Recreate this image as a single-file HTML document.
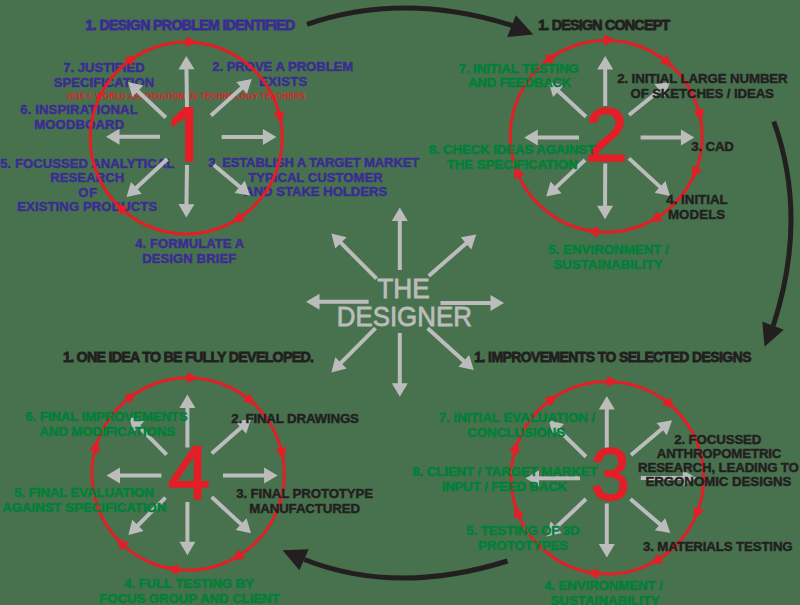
<!DOCTYPE html><html><head><meta charset="utf-8"><style>html,body{margin:0;padding:0;background:#48724e;}svg{display:block;}text{font-family:"Liberation Sans",sans-serif;}</style></head><body>
<svg width="800" height="605" viewBox="0 0 800 605">
<rect width="800" height="605" fill="#48724e"/>
<text x="85.60" y="29.70" font-size="14.10" font-weight="bold" fill="#3a2c92" stroke="#3a2c92" stroke-width="0.80" textLength="209.60" lengthAdjust="spacing">1. DESIGN PROBLEM IDENTIFIED</text>
<text x="63.20" y="72.40" font-size="13.10" font-weight="bold" fill="#3a2c92" stroke="#3a2c92" stroke-width="0.45" textLength="81.50" lengthAdjust="spacing">7. JUSTIFIED</text>
<text x="53.70" y="87.40" font-size="13.10" font-weight="bold" fill="#3a2c92" stroke="#3a2c92" stroke-width="0.45" textLength="100.50" lengthAdjust="spacing">SPECIFICATION</text>
<text x="20.20" y="114.40" font-size="13.10" font-weight="bold" fill="#3a2c92" stroke="#3a2c92" stroke-width="0.45" textLength="117.50" lengthAdjust="spacing">6. INSPIRATIONAL</text>
<text x="34.20" y="128.90" font-size="13.10" font-weight="bold" fill="#3a2c92" stroke="#3a2c92" stroke-width="0.45" textLength="90.00" lengthAdjust="spacing">MOODBOARD</text>
<text x="0.20" y="167.90" font-size="13.10" font-weight="bold" fill="#3a2c92" stroke="#3a2c92" stroke-width="0.45" textLength="174.00" lengthAdjust="spacing">5. FOCUSSED ANALYTICAL</text>
<text x="50.20" y="182.40" font-size="13.10" font-weight="bold" fill="#3a2c92" stroke="#3a2c92" stroke-width="0.45" textLength="74.00" lengthAdjust="spacing">RESEARCH</text>
<text x="78.20" y="197.40" font-size="13.10" font-weight="bold" fill="#3a2c92" stroke="#3a2c92" stroke-width="0.45" textLength="19.00" lengthAdjust="spacing">OF</text>
<text x="17.20" y="210.90" font-size="13.10" font-weight="bold" fill="#3a2c92" stroke="#3a2c92" stroke-width="0.45" textLength="140.00" lengthAdjust="spacing">EXISTING PRODUCTS</text>
<text x="135.20" y="247.90" font-size="13.10" font-weight="bold" fill="#3a2c92" stroke="#3a2c92" stroke-width="0.45" textLength="109.00" lengthAdjust="spacing">4. FORMULATE A</text>
<text x="142.20" y="262.90" font-size="13.10" font-weight="bold" fill="#3a2c92" stroke="#3a2c92" stroke-width="0.45" textLength="94.00" lengthAdjust="spacing">DESIGN BRIEF</text>
<text x="212.20" y="70.90" font-size="13.10" font-weight="bold" fill="#3a2c92" stroke="#3a2c92" stroke-width="0.45" textLength="141.00" lengthAdjust="spacing">2. PROVE A PROBLEM</text>
<text x="259.20" y="85.90" font-size="13.10" font-weight="bold" fill="#3a2c92" stroke="#3a2c92" stroke-width="0.45" textLength="48.00" lengthAdjust="spacing">EXISTS</text>
<text x="208.20" y="166.90" font-size="13.10" font-weight="bold" fill="#3a2c92" stroke="#3a2c92" stroke-width="0.45" textLength="211.00" lengthAdjust="spacing">3. ESTABLISH A TARGET MARKET</text>
<text x="248.20" y="181.90" font-size="13.10" font-weight="bold" fill="#3a2c92" stroke="#3a2c92" stroke-width="0.45" textLength="134.50" lengthAdjust="spacing">TYPICAL CUSTOMER</text>
<text x="244.20" y="195.90" font-size="13.10" font-weight="bold" fill="#3a2c92" stroke="#3a2c92" stroke-width="0.45" textLength="143.00" lengthAdjust="spacing">AND STAKE HOLDERS</text>
<text x="66.50" y="99.40" font-size="9.60" font-weight="bold" fill="#e41e26" stroke="#e41e26" stroke-width="0.00" textLength="238.80" lengthAdjust="spacingAndGlyphs">2016 © WORLD ASSOCIATION OF TECHNOLOGY TEACHERS</text>
<g fill="none" stroke="#231f20" stroke-width="5">
<path d="M307,24.3 Q405.5,-9.3 514.5,26.3"/>
<path d="M773.8,121.5 Q808.5,217.2 773.25,325.75"/>
<path d="M507.5,561 Q396.1,595.8 304.25,559.5"/>
</g><g fill="#231f20">
<polygon points="533.3,34.6 507.2,37 515.8,15.3"/>
<polygon points="764.5,346.8 762.3,321.4 783.8,329.8"/>
<polygon points="282.6,550.3 299.4,570.2 308.7,549.3"/>
</g>
<circle cx="186.25" cy="138.00" r="96.00" fill="none" stroke="#e41e26" stroke-width="3"/>
<polygon fill="#e41e26" points="197.95,42.53 185.64,47.30 186.30,36.32"/>
<polygon fill="#e41e26" points="137.49,55.09 130.62,66.36 124.47,57.25"/>
<polygon fill="#e41e26" points="281.42,124.04 273.56,113.44 284.32,111.17"/>
<polygon fill="#e41e26" points="231.67,222.79 238.98,211.80 244.77,221.15"/>
<polygon fill="#e41e26" points="115.36,203.01 127.82,207.37 120.19,215.30"/>
<circle cx="606.25" cy="136.25" r="96.00" fill="none" stroke="#e41e26" stroke-width="3"/>
<polygon fill="#e41e26" points="615.91,40.55 603.71,45.59 604.13,34.60"/>
<polygon fill="#e41e26" points="672.80,66.80 660.08,63.26 667.18,54.85"/>
<polygon fill="#e41e26" points="701.35,121.85 693.44,111.28 704.20,108.96"/>
<polygon fill="#e41e26" points="692.41,179.00 692.00,165.81 702.14,170.07"/>
<polygon fill="#e41e26" points="649.36,222.24 656.96,211.45 662.50,220.95"/>
<polygon fill="#e41e26" points="586.33,230.35 599.00,226.66 597.40,237.54"/>
<polygon fill="#e41e26" points="514.61,165.49 524.09,174.68 513.84,178.67"/>
<polygon fill="#e41e26" points="557.46,53.36 550.59,64.63 544.43,55.52"/>
<circle cx="607.35" cy="477.75" r="96.35" fill="none" stroke="#e41e26" stroke-width="3"/>
<polygon fill="#e41e26" points="618.96,381.91 606.66,386.70 607.30,375.72"/>
<polygon fill="#e41e26" points="557.54,395.06 550.79,406.40 544.54,397.35"/>
<polygon fill="#e41e26" points="674.88,408.76 662.20,405.08 669.40,396.76"/>
<polygon fill="#e41e26" points="518.19,440.75 519.48,453.89 509.08,450.31"/>
<polygon fill="#e41e26" points="694.22,519.85 693.69,506.66 703.87,510.83"/>
<polygon fill="#e41e26" points="514.83,505.32 524.13,514.69 513.81,518.48"/>
<polygon fill="#e41e26" points="650.27,564.22 657.92,553.46 663.41,562.99"/>
<polygon fill="#e41e26" points="586.33,571.97 599.04,568.42 597.32,579.28"/>
<circle cx="188.10" cy="474.00" r="96.25" fill="none" stroke="#e41e26" stroke-width="3"/>
<polygon fill="#e41e26" points="199.00,378.18 186.73,383.06 187.29,372.08"/>
<polygon fill="#e41e26" points="136.92,392.26 130.37,403.72 123.96,394.78"/>
<polygon fill="#e41e26" points="255.51,405.04 242.83,401.36 250.02,393.03"/>
<polygon fill="#e41e26" points="98.02,439.56 99.69,452.66 89.19,449.38"/>
<polygon fill="#e41e26" points="283.50,459.92 275.64,449.32 286.40,447.04"/>
<polygon fill="#e41e26" points="116.21,538.28 128.62,542.80 120.89,550.63"/>
<polygon fill="#e41e26" points="231.41,560.17 239.00,549.37 244.55,558.87"/>
<polygon fill="#e41e26" points="166.26,567.93 179.01,564.49 177.19,575.34"/>
<g fill="#bbbcbb">
<polygon points="189.00,107.97 188.48,69.37 194.48,69.29 186.30,55.90 178.48,69.51 184.48,69.43 185.00,108.03"/>
<polygon points="185.00,164.97 184.48,204.07 178.48,203.99 186.30,217.60 194.48,204.21 188.48,204.13 189.00,165.03"/>
<polygon points="160.00,134.80 119.50,134.80 119.50,128.80 106.00,136.80 119.50,144.80 119.50,138.80 160.00,138.80"/>
<polygon points="221.70,139.00 262.90,139.00 262.90,145.00 276.40,137.00 262.90,129.00 262.90,135.00 221.70,135.00"/>
<polygon points="167.17,116.04 139.21,89.78 143.32,85.41 128.00,82.00 132.36,97.07 136.47,92.70 164.43,118.96"/>
<polygon points="212.34,116.99 242.98,89.50 246.99,93.97 251.70,79.00 236.31,82.06 240.31,86.52 209.66,114.01"/>
<polygon points="165.94,157.54 135.02,186.34 130.93,181.94 126.50,197.00 141.83,193.65 137.74,189.26 168.66,160.46"/>
<polygon points="212.51,166.53 238.39,188.33 234.52,192.92 250.00,195.50 244.83,180.68 240.96,185.27 215.09,163.47"/>
<polygon points="607.20,106.00 607.20,69.50 613.20,69.50 605.20,56.00 597.20,69.50 603.20,69.50 603.20,106.00"/>
<polygon points="603.20,163.59 603.05,205.69 597.05,205.67 605.00,219.20 613.05,205.73 607.05,205.71 607.20,163.61"/>
<polygon points="579.00,135.60 537.80,135.60 537.80,129.60 524.30,137.60 537.80,145.60 537.80,139.60 579.00,139.60"/>
<polygon points="640.60,139.60 680.90,139.60 680.90,145.60 694.40,137.60 680.90,129.60 680.90,135.60 640.60,135.60"/>
<polygon points="587.36,115.34 559.85,89.73 563.93,85.34 548.60,82.00 553.03,97.05 557.12,92.66 584.64,118.26"/>
<polygon points="630.25,116.56 660.74,92.02 664.50,96.70 670.00,82.00 654.47,84.23 658.23,88.91 627.75,113.44"/>
<polygon points="583.63,158.55 554.65,185.88 550.53,181.52 546.20,196.60 561.51,193.16 557.39,188.79 586.37,161.45"/>
<polygon points="627.65,159.87 658.70,188.35 654.64,192.77 670.00,196.00 665.46,180.98 661.40,185.40 630.35,156.93"/>
<polygon points="608.80,448.00 608.80,409.50 614.80,409.50 606.80,396.00 598.80,409.50 604.80,409.50 604.80,448.00"/>
<polygon points="604.80,503.60 604.80,543.90 598.80,543.90 606.80,557.40 614.80,543.90 608.80,543.90 608.80,503.60"/>
<polygon points="580.00,476.30 539.00,476.30 539.00,470.30 525.50,478.30 539.00,486.30 539.00,480.30 580.00,480.30"/>
<polygon points="640.80,480.00 682.80,480.00 682.80,486.00 696.30,478.00 682.80,470.00 682.80,476.00 640.80,476.00"/>
<polygon points="587.40,455.37 559.84,428.33 564.04,424.04 548.80,420.30 552.83,435.47 557.04,431.18 584.60,458.23"/>
<polygon points="632.29,456.53 662.99,430.55 666.86,435.13 672.00,420.30 656.53,422.91 660.40,427.49 629.71,453.47"/>
<polygon points="584.62,497.55 554.81,525.85 550.68,521.50 546.40,536.60 561.70,533.11 557.57,528.75 587.38,500.45"/>
<polygon points="629.10,500.52 658.73,525.77 654.84,530.33 670.30,533.00 665.21,518.15 661.32,522.72 631.70,497.48"/>
<polygon points="189.40,447.60 189.40,408.00 195.40,408.00 187.40,394.50 179.40,408.00 185.40,408.00 185.40,447.60"/>
<polygon points="185.40,502.00 185.40,541.70 179.40,541.70 187.40,555.20 195.40,541.70 189.40,541.70 189.40,502.00"/>
<polygon points="161.40,473.40 120.00,473.40 120.00,467.40 106.50,475.40 120.00,483.40 120.00,477.40 161.40,477.40"/>
<polygon points="223.00,477.40 264.10,477.40 264.10,483.40 277.60,475.40 264.10,467.40 264.10,473.40 223.00,473.40"/>
<polygon points="168.02,453.19 140.32,425.19 144.58,420.97 129.40,417.00 133.21,432.22 137.47,428.00 165.18,456.01"/>
<polygon points="213.02,455.00 242.20,429.23 246.18,433.73 251.00,418.80 235.59,421.74 239.56,426.24 210.38,452.00"/>
<polygon points="164.08,496.19 136.49,524.01 132.23,519.78 128.40,535.00 143.59,531.05 139.33,526.82 166.92,499.01"/>
<polygon points="210.34,498.47 239.73,525.61 235.65,530.02 251.00,533.30 246.51,518.26 242.44,522.67 213.06,495.53"/>
<polygon points="401.80,270.00 401.80,220.90 407.80,220.90 399.80,207.40 391.80,220.90 397.80,220.90 397.80,270.00"/>
<polygon points="378.01,277.19 342.36,241.53 346.60,237.29 331.40,233.40 335.29,248.60 339.53,244.36 375.19,280.01"/>
<polygon points="430.02,277.51 467.35,244.89 471.30,249.41 476.20,234.50 460.77,237.36 464.72,241.88 427.38,274.49"/>
<polygon points="368.60,299.80 319.50,299.80 319.50,293.80 306.00,301.80 319.50,309.80 319.50,303.80 368.60,303.80"/>
<polygon points="440.50,304.90 490.50,304.90 490.50,310.90 504.00,302.90 490.50,294.90 490.50,300.90 440.50,300.90"/>
<polygon points="374.08,326.79 339.52,361.43 335.27,357.19 331.40,372.40 346.60,368.49 342.35,364.26 376.92,329.61"/>
<polygon points="397.80,333.00 397.80,383.20 391.80,383.20 399.80,396.70 407.80,383.20 401.80,383.20 401.80,333.00"/>
<polygon points="426.26,329.68 462.45,362.43 458.42,366.87 473.80,370.00 469.16,355.01 465.13,359.46 428.94,326.72"/>
</g>
<polygon fill="#e41e26" points="185.1,106.9 193.3,106.9 193.3,161.7 185.1,161.7 185.1,118 171.5,127.4 171.5,119"/>
<text x="585.15" y="161.1" font-size="76.6" fill="#e41e26" stroke="#e41e26" stroke-width="1.4">2</text>
<text transform="translate(590.95,499.9) scale(0.93,1)" font-size="74.9" fill="#e41e26" stroke="#e41e26" stroke-width="1.4">3</text>
<text x="167.9" y="499" font-size="76" fill="#e41e26" stroke="#e41e26" stroke-width="1.4">4</text>
<text x="377.2" y="297.6" font-size="27.5" fill="#bbbcbb" stroke="#bbbcbb" stroke-width="0.8" textLength="52.5" lengthAdjust="spacingAndGlyphs">THE</text>
<text x="336.8" y="325.8" font-size="27.5" fill="#bbbcbb" stroke="#bbbcbb" stroke-width="0.8" textLength="135" lengthAdjust="spacingAndGlyphs">DESIGNER</text>
<text x="538.20" y="29.70" font-size="14.39" font-weight="bold" fill="#231f20" stroke="#231f20" stroke-width="0.80" textLength="132.00" lengthAdjust="spacing">1. DESIGN CONCEPT</text>
<text x="458.70" y="72.90" font-size="13.30" font-weight="bold" fill="#008038" stroke="#008038" stroke-width="0.45" textLength="120.25" lengthAdjust="spacing">7. INITIAL TESTING</text>
<text x="467.95" y="87.40" font-size="13.30" font-weight="bold" fill="#008038" stroke="#008038" stroke-width="0.45" textLength="103.50" lengthAdjust="spacing">AND FEEDBACK</text>
<text x="617.20" y="82.90" font-size="13.30" font-weight="bold" fill="#231f20" stroke="#231f20" stroke-width="0.45" textLength="170.50" lengthAdjust="spacing">2. INITIAL LARGE NUMBER</text>
<text x="630.45" y="97.90" font-size="13.30" font-weight="bold" fill="#231f20" stroke="#231f20" stroke-width="0.45" textLength="143.50" lengthAdjust="spacing">OF SKETCHES / IDEAS</text>
<text x="691.20" y="151.15" font-size="13.30" font-weight="bold" fill="#231f20" stroke="#231f20" stroke-width="0.45" textLength="42.75" lengthAdjust="spacing">3. CAD</text>
<text x="666.20" y="204.40" font-size="13.30" font-weight="bold" fill="#231f20" stroke="#231f20" stroke-width="0.45" textLength="61.50" lengthAdjust="spacing">4. INITIAL</text>
<text x="667.95" y="219.15" font-size="13.30" font-weight="bold" fill="#231f20" stroke="#231f20" stroke-width="0.45" textLength="57.25" lengthAdjust="spacing">MODELS</text>
<text x="548.30" y="254.15" font-size="13.30" font-weight="bold" fill="#008038" stroke="#008038" stroke-width="0.45" textLength="120.50" lengthAdjust="spacing">5. ENVIRONMENT /</text>
<text x="553.20" y="269.00" font-size="13.30" font-weight="bold" fill="#008038" stroke="#008038" stroke-width="0.45" textLength="109.50" lengthAdjust="spacing">SUSTAINABILITY</text>
<text x="428.70" y="154.40" font-size="13.30" font-weight="bold" fill="#008038" stroke="#008038" stroke-width="0.45" textLength="166.50" lengthAdjust="spacing">8. CHECK IDEAS AGAINST</text>
<text x="446.70" y="168.65" font-size="13.30" font-weight="bold" fill="#008038" stroke="#008038" stroke-width="0.45" textLength="131.00" lengthAdjust="spacing">THE SPECIFICATION</text>
<text x="474.30" y="361.60" font-size="13.95" font-weight="bold" fill="#231f20" stroke="#231f20" stroke-width="0.80" textLength="277.15" lengthAdjust="spacing">1. IMPROVEMENTS TO SELECTED DESIGNS</text>
<text x="438.70" y="422.40" font-size="13.30" font-weight="bold" fill="#008038" stroke="#008038" stroke-width="0.45" textLength="156.50" lengthAdjust="spacing">7. INITIAL EVALUATION /</text>
<text x="467.20" y="437.40" font-size="13.30" font-weight="bold" fill="#008038" stroke="#008038" stroke-width="0.45" textLength="98.00" lengthAdjust="spacing">CONCLUSIONS</text>
<text x="674.20" y="443.65" font-size="13.30" font-weight="bold" fill="#231f20" stroke="#231f20" stroke-width="0.45" textLength="87.25" lengthAdjust="spacing">2. FOCUSSED</text>
<text x="656.70" y="457.90" font-size="13.30" font-weight="bold" fill="#231f20" stroke="#231f20" stroke-width="0.45" textLength="124.75" lengthAdjust="spacing">ANTHROPOMETRIC</text>
<text x="637.95" y="472.40" font-size="13.30" font-weight="bold" fill="#231f20" stroke="#231f20" stroke-width="0.45" textLength="161.00" lengthAdjust="spacing">RESEARCH, LEADING TO</text>
<text x="645.45" y="486.15" font-size="13.30" font-weight="bold" fill="#231f20" stroke="#231f20" stroke-width="0.45" textLength="146.00" lengthAdjust="spacing">ERGONOMIC DESIGNS</text>
<text x="642.95" y="551.15" font-size="13.30" font-weight="bold" fill="#231f20" stroke="#231f20" stroke-width="0.45" textLength="149.75" lengthAdjust="spacing">3. MATERIALS TESTING</text>
<text x="544.20" y="589.90" font-size="13.30" font-weight="bold" fill="#008038" stroke="#008038" stroke-width="0.45" textLength="118.50" lengthAdjust="spacing">4. ENVIRONMENT /</text>
<text x="550.45" y="605.40" font-size="13.30" font-weight="bold" fill="#008038" stroke="#008038" stroke-width="0.45" textLength="109.25" lengthAdjust="spacing">SUSTAINABILITY</text>
<text x="412.20" y="476.15" font-size="13.30" font-weight="bold" fill="#008038" stroke="#008038" stroke-width="0.45" textLength="185.50" lengthAdjust="spacing">8. CLIENT / TARGET MARKET</text>
<text x="441.70" y="491.15" font-size="13.30" font-weight="bold" fill="#008038" stroke="#008038" stroke-width="0.45" textLength="125.50" lengthAdjust="spacing">INPUT / FEED BACK</text>
<text x="466.20" y="535.40" font-size="13.30" font-weight="bold" fill="#008038" stroke="#008038" stroke-width="0.45" textLength="113.50" lengthAdjust="spacing">5. TESTING OF 3D</text>
<text x="477.95" y="549.90" font-size="13.30" font-weight="bold" fill="#008038" stroke="#008038" stroke-width="0.45" textLength="90.25" lengthAdjust="spacing">PROTOTYPES</text>
<text x="62.95" y="361.60" font-size="14.24" font-weight="bold" fill="#231f20" stroke="#231f20" stroke-width="0.80" textLength="251.00" lengthAdjust="spacing">1. ONE IDEA TO BE FULLY DEVELOPED.</text>
<text x="25.45" y="421.15" font-size="13.30" font-weight="bold" fill="#008038" stroke="#008038" stroke-width="0.45" textLength="162.25" lengthAdjust="spacing">6. FINAL IMPROVEMENTS</text>
<text x="39.20" y="436.15" font-size="13.30" font-weight="bold" fill="#008038" stroke="#008038" stroke-width="0.45" textLength="136.00" lengthAdjust="spacing">AND MODIFICATIONS</text>
<text x="231.20" y="422.90" font-size="13.30" font-weight="bold" fill="#231f20" stroke="#231f20" stroke-width="0.45" textLength="127.75" lengthAdjust="spacing">2. FINAL DRAWINGS</text>
<text x="236.20" y="497.90" font-size="13.30" font-weight="bold" fill="#231f20" stroke="#231f20" stroke-width="0.45" textLength="137.00" lengthAdjust="spacing">3. FINAL PROTOTYPE</text>
<text x="249.20" y="512.90" font-size="13.30" font-weight="bold" fill="#231f20" stroke="#231f20" stroke-width="0.45" textLength="111.00" lengthAdjust="spacing">MANUFACTURED</text>
<text x="14.20" y="497.40" font-size="13.30" font-weight="bold" fill="#008038" stroke="#008038" stroke-width="0.45" textLength="139.75" lengthAdjust="spacing">5. FINAL EVALUATION</text>
<text x="2.20" y="512.40" font-size="13.30" font-weight="bold" fill="#008038" stroke="#008038" stroke-width="0.45" textLength="164.25" lengthAdjust="spacing">AGAINST SPECIFICATION</text>
<text x="124.20" y="587.90" font-size="13.30" font-weight="bold" fill="#008038" stroke="#008038" stroke-width="0.45" textLength="129.75" lengthAdjust="spacing">4. FULL TESTING BY</text>
<text x="99.20" y="602.90" font-size="13.30" font-weight="bold" fill="#008038" stroke="#008038" stroke-width="0.45" textLength="180.50" lengthAdjust="spacing">FOCUS GROUP AND CLIENT</text>
</svg></body></html>
